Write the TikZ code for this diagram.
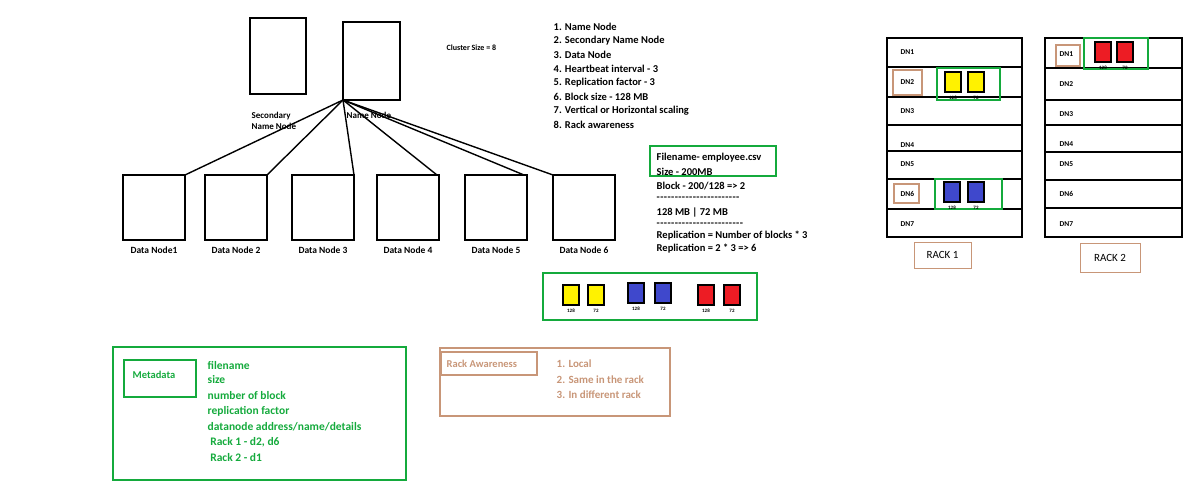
\documentclass[tikz,border=0pt]{standalone}
\usepackage{fontspec}
\setmainfont{Carlito}
\usetikzlibrary{positioning}
\definecolor{grn}{RGB}{20,170,60}
\definecolor{brn}{RGB}{200,150,120}
\definecolor{ylw}{RGB}{255,242,0}
\definecolor{blu}{RGB}{63,72,204}
\definecolor{rd}{RGB}{237,28,36}
\newcommand{\blk}[4]{% x, y, colour, label
  \draw[line width=1.6pt,fill=#3] (#1,#2) rectangle ++(16,20);
  \node[tiny txt] at (#1+8,#2+26) {#4};}
\newcommand{\dashrow}[1]{\foreach \k in {1,...,#1}{-\kern0.4pt}}
\begin{document}
\begin{tikzpicture}[x=1pt,y=-1pt,line width=1.4pt,
    box/.style={draw,line width=1.6pt},
    gbox/.style={draw=grn,line width=1.4pt},
    bbox/.style={draw=brn,line width=1.4pt},
    txt/.style={font=\bfseries\fontsize{10.5}{12.5}\selectfont,anchor=west,inner sep=0},
    tiny txt/.style={font=\bfseries\fontsize{5}{5}\selectfont,inner sep=0}]
  \useasboundingbox (0,0) rectangle (1200,500);

  % name nodes
  \draw[box] (250,18) rectangle (306,94);
  \draw[box] (343,22) rectangle (400,100);
  \coordinate (nn) at (343,100);
  \node[txt,align=left,font=\bfseries\fontsize{9}{11}\selectfont] at (251,121) {Secondary\\Name Node};
  \node[txt,font=\bfseries\fontsize{9}{11}\selectfont] at (346,115) {Name Node};
  \node[txt,font=\bfseries\fontsize{8}{9}\selectfont] at (446,48) {Cluster Size = 8};

  % data nodes
  \foreach \x/\t [count=\i] in {123/Data Node1,205/Data Node 2,292/Data Node 3,377/Data Node 4,465/Data Node 5,553/Data Node 6}{
    \draw[box] (\x,175) rectangle ++(62,65);
    \node[txt,anchor=center,font=\bfseries\fontsize{9.5}{11}\selectfont] at (\x+31,250) {\t};
  }
  \draw (nn) -- (185,175);
  \draw (nn) -- (267,175);
  \draw (nn) -- (354,175);
  \draw (nn) -- (437,175);
  \draw (nn) -- (524,175);
  \draw (nn) -- (553,175);

  % list
  \foreach \t [count=\i] in {1. Name Node,2. Secondary Name Node,3. Data Node,4. Heartbeat interval - 3,5. Replication factor - 3,6. Block size - 128 MB,7. Vertical or Horizontal scaling,8. Rack awareness}
    \node[txt] at (553,13+14*\i) {\t};

  % file info
  \draw[gbox] (650,146) rectangle (776,176);
  \foreach \t/\y in {{Filename- employee.csv}/158,{Size - 200MB}/172,{Block - 200/128 => 2}/186,{\dashrow{23}}/199,{128 MB | 72 MB}/213,{\dashrow{24}}/225,{Replication = Number of blocks * 3}/236,{Replication = 2 * 3 => 6}/249}
    \node[txt] at (656,\y) {\t};

  % blocks
  \draw[gbox] (543,273) rectangle (757,320);
  \blk{563}{285}{ylw}{128} \blk{588}{285}{ylw}{72}
  \blk{628}{283}{blu}{128} \blk{655}{283}{blu}{72}
  \blk{698}{285}{rd}{128}  \blk{724}{285}{rd}{72}

  % metadata
  \draw[gbox] (113,347) rectangle (406,480);
  \draw[gbox] (124,360) rectangle (196,397);
  \node[txt,text=grn] at (132,375) {Metadata};
  \foreach \t/\y in {{filename}/365,{size}/380,{number of block}/396,{replication factor}/411,{datanode address/name/details}/427,{\ Rack 1 - d2, d6}/442,{\ Rack 2 - d1}/458}
    \node[txt,text=grn,font=\bfseries\fontsize{11.5}{13}\selectfont] at (207,\y) {\t};

  % rack awareness
  \draw[bbox] (440,348) rectangle (670,416);
  \draw[bbox] (441,352) rectangle (537,375);
  \node[txt,text=brn] at (446,364) {Rack Awareness};
  \foreach \t/\y in {{1. Local}/364,{2. Same in the rack}/380,{3. In different rack}/395}
    \node[txt,text=brn,font=\bfseries\fontsize{11}{13}\selectfont] at (556,\y) {\t};

  % rack 1
  \draw[box] (887,38) rectangle (1022,237);
  \foreach \y in {67,97,125,151,179,209} \draw[line width=1.6pt] (887,\y) -- (1022,\y);
  \foreach \y/\i in {52/1,82/2,111/3,145/4,164/5,194/6,224/7}
    \node[txt,font=\bfseries\fontsize{7.5}{8}\selectfont] at (900,\y) {DN\i};
  \draw[bbox] (893,70) rectangle (922,95);
  \draw[gbox] (937,68) rectangle (1000,100);
  \blk{945}{72}{ylw}{128} \blk{968}{72}{ylw}{72}
  \draw[bbox] (894,184) rectangle (919,203);
  \draw[gbox] (935,179) rectangle (1002,209);
  \blk{944}{182}{blu}{128} \blk{968}{182}{blu}{72}
  \draw[bbox,line width=1pt] (914,242) rectangle (971,268);
  \node[font=\fontsize{11}{13}\selectfont] at (942.5,255) {RACK 1};

  % rack 2
  \draw[box] (1045,38) rectangle (1182,237);
  \foreach \y in {68,100,125,152,180,208} \draw[line width=1.6pt] (1045,\y) -- (1182,\y);
  \foreach \y/\i in {54/1,84/2,114/3,144/4,164/5,194/6,224/7}
    \node[txt,font=\bfseries\fontsize{7.5}{8}\selectfont] at (1059,\y) {DN\i};
  \draw[bbox] (1056,45) rectangle (1080,66);
  \draw[gbox] (1084,38) rectangle (1148,69);
  \blk{1095}{42}{rd}{128} \blk{1117}{42}{rd}{72}
  \draw[bbox,line width=1pt] (1080,243) rectangle (1140,272);
  \node[font=\fontsize{11}{13}\selectfont] at (1110,257.5) {RACK 2};
\end{tikzpicture}
\end{document}
